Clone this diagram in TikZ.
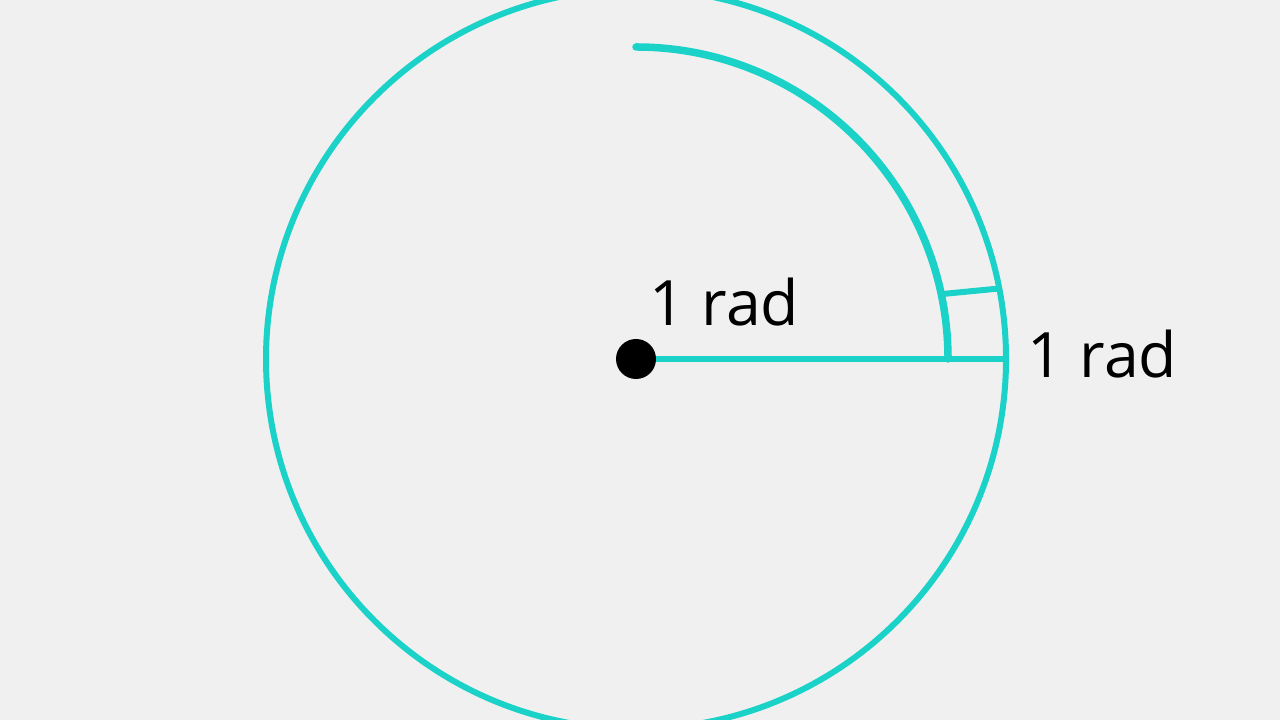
\documentclass[tikz,border=0pt]{standalone}
\usepackage{fontspec}
\setmainfont{Open Sans}
\usetikzlibrary{positioning}
\definecolor{radcyan}{RGB}{26,210,200}
\definecolor{bggray}{RGB}{240,240,240}

\begin{document}
\begin{tikzpicture}[
			circline/.style={draw=radcyan, line width=0.6mm},
			arcline/.style={draw=radcyan, line width=0.75mm, line cap=round},
			radline/.style={draw=radcyan, line width=0.6mm},
			dotnode/.style={circle, fill=black, inner sep=0pt, minimum size=4mm},
			radlabel/.style={inner sep=0pt, font=\fontsize{17.8pt}{20pt}\selectfont},
			]
			%Background
			\fill[bggray] (0,0) rectangle (12.8,-7.2);
			\clip (0,0) rectangle (12.8,-7.2);

			%Circle
			\coordinate (centre) at (6.36,-3.59);
			\coordinate (rim)    at ([shift={(0:3.70)}]centre);
			\draw[circline] (centre) circle (3.70);
			\draw[arcline] ([shift={(90:3.12)}]centre) arc (90:0:3.12);
			\draw[radline] (centre) -- (rim);
			\draw[radline] ([shift={(12:3.12)}]centre) -- ([shift={(11:3.69)}]centre);

			%Nodes
			\node[dotnode] (dot) at (centre) {};
			\node[radlabel, anchor=base west] (lbl1) at (6.49,-3.26) {1 rad};
			\node[radlabel, anchor=base west] (lbl2) at (10.27,-3.78) {1 rad};
		\end{tikzpicture}
\end{document}
